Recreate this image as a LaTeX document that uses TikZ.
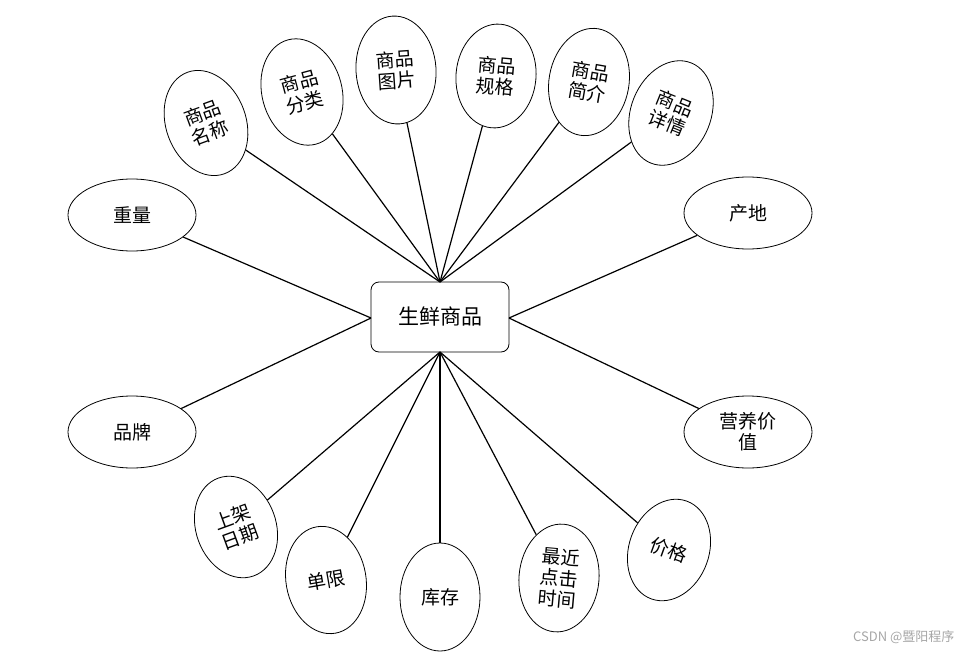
\documentclass[tikz,border=0pt]{standalone}
\usepackage{fontspec}
\newfontfamily\cjk{Noto Sans CJK SC}
\usetikzlibrary{shapes.geometric}
\tikzset{
 attr/.style={draw,ellipse,inner sep=0pt,minimum width=80pt,minimum height=108pt,font=\cjk\fontsize{19}{21}\selectfont,align=center,line width=0.8pt},
 wattr/.style={attr,minimum width=128pt,minimum height=72pt},
 link/.style={line width=1.2pt}
}
\begin{document}
\begin{tikzpicture}[x=1pt,y=-1pt]
\useasboundingbox (0,0) rectangle (963,655);
\node[draw,rounded corners=8pt,minimum width=138pt,minimum height=70pt,font=\cjk\fontsize{21}{24}\selectfont,line width=0.8pt] (c) at (440,317) {生鲜商品};
\coordinate (ct) at (440,282);
\coordinate (cb) at (440,352);
\coordinate (cl) at (371,318);
\coordinate (cr) at (509,318);
\node[wattr] (zl) at (132,215) {重量};
\node[attr,rotate=20] (mc) at (206,123) {商品\\名称};
\node[attr,rotate=15] (fl) at (302,92) {商品\\分类};
\node[attr,rotate=4] (tp) at (396,70) {商品\\图片};
\node[attr,rotate=-5,minimum height=104pt] (gg) at (496,76) {商品\\规格};
\node[attr,rotate=-10] (jj) at (589,82) {商品\\简介};
\node[attr,rotate=-22] (xq) at (671,113) {商品\\详情};
\node[wattr] (cd) at (748,213) {产地};
\node[wattr] (yy) at (748,432) {营养价\\值};
\node[wattr] (pp) at (132,432) {品牌};
\node[attr,rotate=20,minimum height=104pt] (sj) at (236,527) {上架\\日期};
\node[attr,rotate=10] (dx) at (326,580) {单限};
\node[attr] (kc) at (440,597) {库存};
\node[attr,rotate=-5] (zj) at (559,578) {最近\\点击\\时间};
\node[attr,rotate=-20,minimum height=104pt] (jg) at (669,550) {价格};
\foreach \n in {mc,fl,tp,gg,jj,xq} \draw[link] (\n) -- (ct);
\foreach \n in {sj,dx,kc,zj,jg} \draw[link] (\n) -- (cb);
\draw[link] (zl) -- (cl);
\draw[link] (pp) -- (cl);
\draw[link] (cd) -- (cr);
\draw[link] (yy) -- (cr);
\node[text=gray!70,font=\cjk\fontsize{13}{15}\selectfont,anchor=east] (wm) at (958,637) {CSDN @暨阳程序};
\end{tikzpicture}
\end{document}
